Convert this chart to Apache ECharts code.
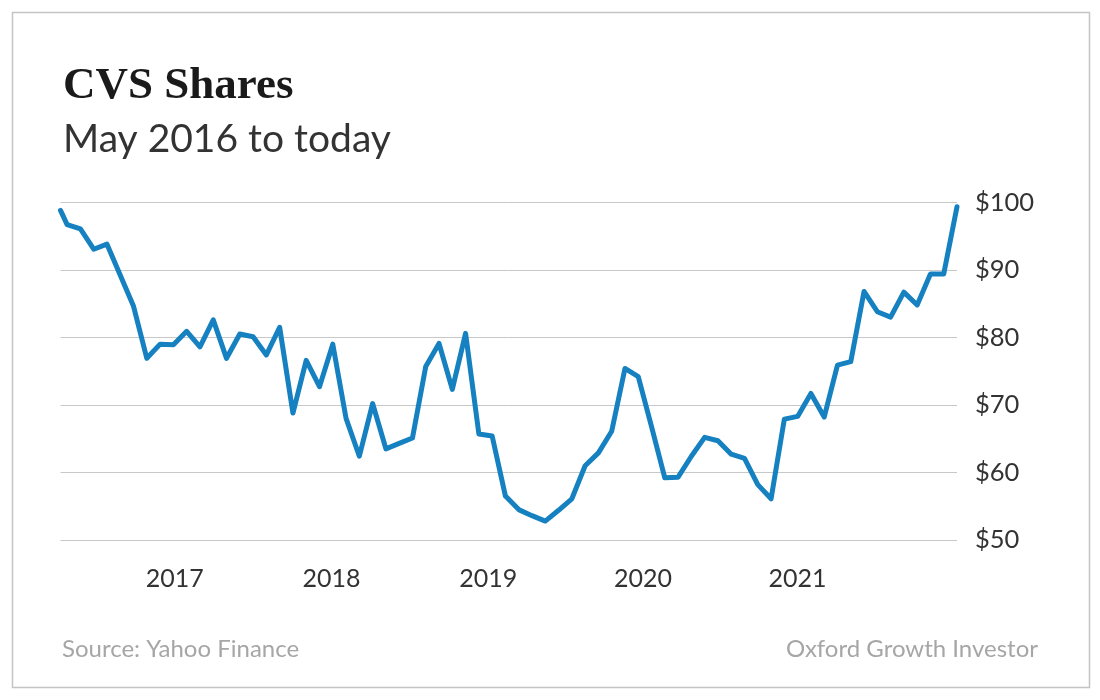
<!DOCTYPE html>
<html>
<head>
<meta charset="utf-8">
<script src="https://cdn.jsdelivr.net/npm/echarts@6/dist/echarts.min.js"></script>
<style>html,body{margin:0;padding:0;background:#fff}#c{width:1100px;height:700px}</style>
</head>
<body>
<div id="c"></div>
<script>
// First (partial-month) reading, half a month before May 2016
const firstPoint = 98.8;
// Monthly closes, May 2016 .. Dec 2021 (index 0 = May 2016)
const monthlyClose = [
  96.7, 96.05, 93.05, 93.8, 89.2, 84.6, 76.9, 79.0,
  78.9, 80.9, 78.6, 82.6, 76.9, 80.5, 80.1, 77.4, 81.5, 68.8, 76.6, 72.7,
  79.0, 68.0, 62.4, 70.2, 63.5, 64.3, 65.1, 75.7, 79.1, 72.3, 80.6, 65.7,
  65.4, 56.5, 54.5, 53.6, 52.8, 54.4, 56.1, 61.0, 62.9, 66.1, 75.4, 74.2,
  66.8, 59.2, 59.3, 62.4, 65.2, 64.7, 62.7, 62.1, 58.2, 56.1, 67.9, 68.3,
  71.7, 68.2, 75.9, 76.4, 86.8, 83.8, 83.0, 86.7, 84.8, 89.4, 89.4, 99.35
];
const yearLabels = ['2017', '2018', '2019', '2020', '2021'];
const yTicks = [50, 60, 70, 80, 90, 100];

const seriesData = [[-0.5, firstPoint]].concat(monthlyClose.map((v, i) => [i, v]));

const chart = echarts.init(document.getElementById('c'));
chart.setOption({
  animation: false,
  backgroundColor: '#ffffff',
  graphic: [{
    type: 'rect', shape: { x: 12.5, y: 12.5, width: 1077, height: 675 },
    style: { fill: 'none', stroke: '#c4c4c4', lineWidth: 1.5 }, silent: true
  }],
  title: [
    { text: 'CVS Shares', left: 63, top: 64, padding: 0,
      textStyle: { fontFamily: 'Liberation Serif', fontWeight: 'bold', fontSize: 45, color: '#1a1a1a' } },
    { text: 'May 2016 to today', left: 63, top: 120, padding: 0,
      textStyle: { fontFamily: 'Lato', fontWeight: 'normal', fontSize: 39, color: '#333333' } },
    { text: 'Source: Yahoo Finance', left: 62, top: 637, padding: 0,
      textStyle: { fontFamily: 'Lato', fontWeight: 'normal', fontSize: 24, color: '#a6a6a6' } },
    { text: 'Oxford Growth Investor', right: 62, top: 637, padding: 0,
      textStyle: { fontFamily: 'Lato', fontWeight: 'normal', fontSize: 24, color: '#a6a6a6' } }
  ],
  grid: { left: 60.5, right: 143, top: 202.3, bottom: 160, containLabel: false },
  xAxis: {
    type: 'value', min: -0.5, max: 67,
    axisLine: { show: false }, axisTick: { show: false }, splitLine: { show: false },
    axisLabel: {
      customValues: [8.1, 19.9, 31.7, 43.35, 55.0],
      formatter: v => yearLabels[Math.round((v - 8) / 12)] || '',
      fontFamily: 'Lato', fontSize: 25, color: '#333333', margin: 26
    }
  },
  yAxis: {
    type: 'value', position: 'right', min: 50, max: 100, interval: 10,
    axisLine: { show: false }, axisTick: { show: false },
    splitLine: { lineStyle: { color: '#c8c8c8', width: 1 } },
    axisLabel: {
      formatter: v => yTicks.includes(v) ? '$' + v : '',
      fontFamily: 'Lato', fontSize: 25.5, color: '#333333', margin: 18, align: 'left'
    }
  },
  series: [{
    type: 'line', data: seriesData, showSymbol: false, symbol: 'none',
    lineStyle: { color: '#1581c0', width: 5, cap: 'round', join: 'round' },
    itemStyle: { color: '#1581c0' }
  }]
});
</script>
</body>
</html>
